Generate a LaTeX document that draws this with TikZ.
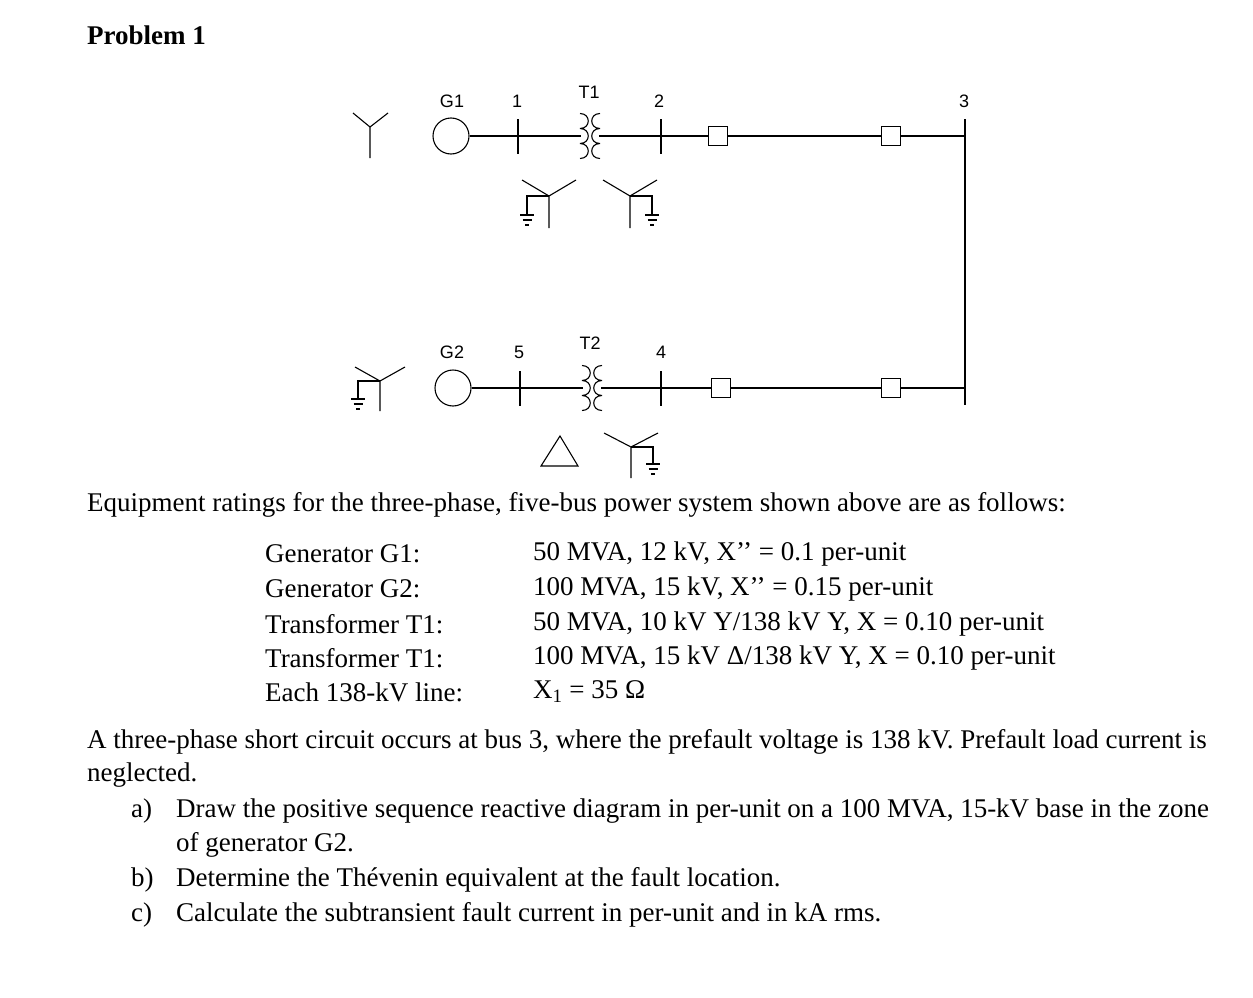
\documentclass[tikz,border=0pt]{standalone}
\usepackage{fontspec}
\setmainfont{Liberation Serif}
\newfontfamily\lsans{Liberation Sans}
\begin{document}
\begin{tikzpicture}[x=1pt,y=-1pt,
  ln/.style={line width=1.1pt},
  lab/.style={font=\lsans\fontsize{18}{18}\selectfont},
  txt/.style={anchor=west,font=\fontsize{27}{27}\selectfont,inner sep=0},
  brk/.style={draw,line width=1.1pt,fill=white,minimum size=19pt,inner sep=0}]
\useasboundingbox (0,0) rectangle (1253,998);
\def\gnd#1#2{\draw[ln] (#1-7,#2) -- (#1+7,#2) (#1-4.5,#2+5) -- (#1+4.5,#2+5) (#1-2,#2+10) -- (#1+2,#2+10);}
\def\bump#1#2#3{(#1,#2) .. controls (#1+#3,#2) and (#1+#3,#2+15) .. (#1,#2+15)}
\def\xfmr#1#2{%
  \draw[ln] \bump{#1-10}{#2-22.5}{11} \bump{#1-10}{#2-7.5}{11} \bump{#1-10}{#2+7.5}{11};
  \draw[ln] \bump{#1+10}{#2-22.5}{-11} \bump{#1+10}{#2-7.5}{-11} \bump{#1+10}{#2+7.5}{-11};}
% top row
\node[draw,ln,circle,minimum size=36pt,inner sep=0] (g1) at (451,136) {};
\node[brk] (b12) at (718,136) {};
\node[brk] (b13) at (891,136) {};
\coordinate (t1l) at (581,136); \coordinate (t1r) at (599,136);
\coordinate (n3a) at (965,136);
\draw[ln] (g1) -- (t1l) (t1r) -- (b12) -- (b13) -- (n3a);
\xfmr{590}{136}
\draw[ln] (518,119) -- (518,154) (661,119) -- (661,154);
\node[lab] at (452,101) {G1}; \node[lab] at (517,101) {1};
\node[lab] at (589,92) {T1}; \node[lab] at (659,101) {2}; \node[lab] at (964,101) {3};
\draw[ln] (353,113) -- (370,127) -- (388,113) (370,127) -- (370,158);
\draw[ln] (522,180) -- (549,196) -- (576,180) (549,196) -- (549,228);
\draw[ln] (549,196) -- (527,196) -- (527,215); \gnd{527}{215}
\draw[ln] (603,180) -- (630,196) -- (657,180) (630,196) -- (630,228);
\draw[ln] (630,196) -- (652,196) -- (652,215); \gnd{652}{215}
% bottom row
\node[draw,ln,circle,minimum size=36pt,inner sep=0] (g2) at (453,388) {};
\node[brk] (b42) at (721,388) {};
\node[brk] (b43) at (891,388) {};
\coordinate (t2l) at (583,388); \coordinate (t2r) at (601,388);
\coordinate (n3b) at (965,388);
\draw[ln] (g2) -- (t2l) (t2r) -- (b42) -- (b43) -- (n3b);
\xfmr{592}{388}
\draw[ln] (520,371) -- (520,406) (661,371) -- (661,406);
\draw[ln] (965,119) -- (965,405);
\node[lab] at (452,352) {G2}; \node[lab] at (519,352) {5};
\node[lab] at (590,343) {T2}; \node[lab] at (661,352) {4};
\draw[ln] (355,367) -- (380,381) -- (405,367) (380,381) -- (380,411);
\draw[ln] (380,381) -- (358,381) -- (358,399); \gnd{358}{399}
\draw[ln] (541,466) -- (560,436) -- (578,466) -- cycle;
\draw[ln] (604,433) -- (631,447) -- (658,433) (631,447) -- (631,478);
\draw[ln] (631,447) -- (653,447) -- (653,464); \gnd{653}{464}
% text
\node[txt,font=\bfseries\fontsize{27}{27}\selectfont] at (87,35) {Problem 1};
\node[txt] at (87,505) {Equipment ratings for the three-phase, five-bus power system shown above are as follows:};
\node[txt] at (265,554) {Generator G1:};
\node[txt] at (265,589) {Generator G2:};
\node[txt] at (265,624) {Transformer T1:};
\node[txt] at (265,658) {Transformer T1:};
\node[txt] at (265,692) {Each 138-kV line:};
\node[txt] at (533,554) {50 MVA, 12 kV, X’’ = 0.1 per-unit};
\node[txt] at (533,589) {100 MVA, 15 kV, X’’ = 0.15 per-unit};
\node[txt] at (533,624) {50 MVA, 10 kV Y/138 kV Y, X = 0.10 per-unit};
\node[txt] at (533,658) {100 MVA, 15 kV Δ/138 kV Y, X = 0.10 per-unit};
\node[txt] at (533,692) {X\textsubscript{1} = 35 Ω};
\node[txt] at (87,742) {A three-phase short circuit occurs at bus 3, where the prefault voltage is 138 kV. Prefault load current is};
\node[txt] at (87,775) {neglected.};
\node[txt] at (131,811) {a)}; \node[txt] at (176,811) {Draw the positive sequence reactive diagram in per-unit on a 100 MVA, 15-kV base in the zone};
\node[txt] at (176,845) {of generator G2.};
\node[txt] at (131,880) {b)}; \node[txt] at (176,880) {Determine the Thévenin equivalent at the fault location.};
\node[txt] at (131,915) {c)}; \node[txt] at (176,915) {Calculate the subtransient fault current in per-unit and in kA rms.};
\end{tikzpicture}
\end{document}
